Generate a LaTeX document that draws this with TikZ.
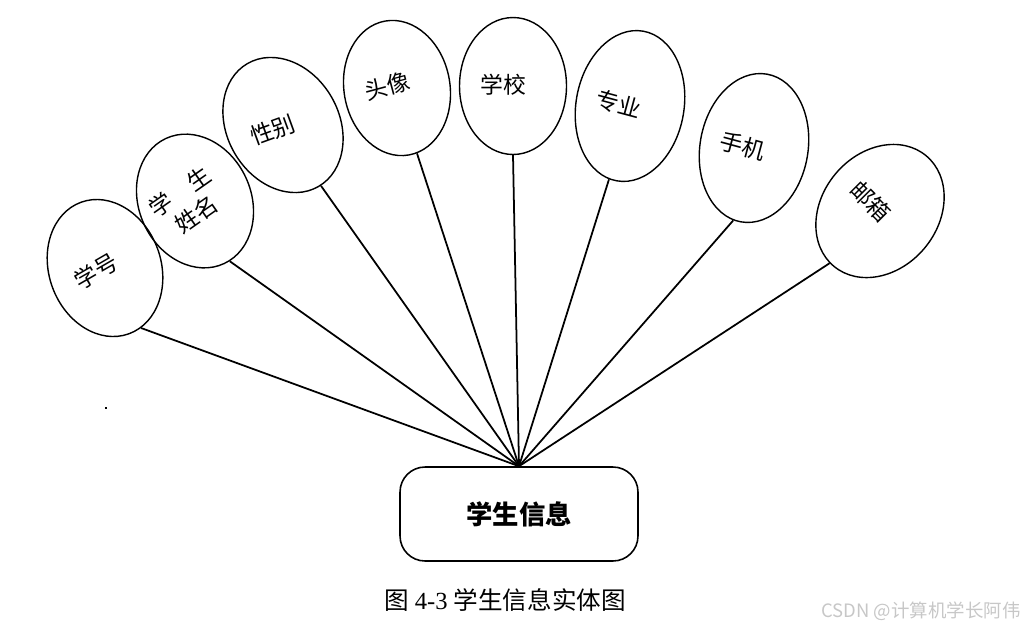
\documentclass[tikz,border=0pt]{standalone}
\usepackage{fontspec}
\setmainfont{Liberation Serif}
\newfontfamily\cjk{Noto Sans CJK SC}
\usetikzlibrary{shapes.geometric}
\tikzset{
  attr/.style 2 args={ellipse, draw, line width=0.8pt, minimum width=#1, minimum height=#2, inner sep=0pt},
  lbl/.style={font=\cjk\fontsize{13}{14}\selectfont, inner sep=0pt, align=center},
  conn/.style={line width=1pt},
}
\begin{document}
\begin{tikzpicture}[x=0.02cm,y=-0.02cm]
\useasboundingbox (0,0) rectangle (1034,630);
% entity
\node[draw, line width=0.9pt, rounded corners=0.5cm, minimum width=4.76cm, minimum height=1.88cm,
      font=\cjk\bfseries\fontsize{15}{18}\selectfont] (ent) at (519,514) {学生信息};
\coordinate (hub) at (ent.north);
% attributes
\node[attr={2.24cm}{2.80cm}, rotate=20]  (a1) at (105,268) {};
\node[attr={2.24cm}{2.76cm}, rotate=25]  (a2) at (195,201) {};
\node[attr={2.24cm}{2.84cm}, rotate=30]  (a3) at (283,125) {};
\node[attr={2.12cm}{2.72cm}, rotate=10]  (a4) at (397,88) {};
\node[attr={2.14cm}{2.74cm}, rotate=0]   (a5) at (513,86) {};
\node[attr={2.16cm}{3.04cm}, rotate=-10] (a6) at (630,106) {};
\node[attr={2.16cm}{3.00cm}, rotate=-10] (a7) at (754,148) {};
\node[attr={2.32cm}{2.88cm}, rotate=-40] (a8) at (880,211) {};
% labels
\node[lbl, rotate=30]  (t1) at (96,271) {学号};
\node[lbl, rotate=35]  (t2) at (188,203) {学\quad 生\\[2pt]姓名};
\node[lbl, rotate=20]  (t3) at (273,130) {性别};
\node[lbl, rotate=15]  (t4) at (387,86) {头像};
\node[lbl, rotate=0]   (t5) at (503,85) {学校};
\node[lbl, rotate=-15] (t6) at (619,104) {专业};
\node[lbl, rotate=-15] (t7) at (743,146) {手机};
\node[lbl, rotate=-45] (t8) at (871,201) {邮箱};
% connectors
\draw[conn] (a1.-79) -- (hub);
\draw[conn] (a2.-85) -- (hub);
\draw[conn] (a3.-88) -- (hub);
\draw[conn] (a4.-83) -- (hub);
\draw[conn] (a5.-90) -- (hub);
\draw[conn] (a6.-96) -- (hub);
\draw[conn] (a7.-96) -- (hub);
\draw[conn] (a8.-94) -- (hub);
% stray dot
\fill (105,407) rectangle (107,409);
% caption
\node[font=\fontsize{14}{16}\selectfont, inner sep=0pt] (cap) at (505,600) {{\cjk 图} 4-3 {\cjk 学生信息实体图}};
\node[font=\cjk\fontsize{10.5}{12}\selectfont, text=black!22, inner sep=0pt] (wm) at (921,611) {CSDN @计算机学长阿伟};
\end{tikzpicture}
\end{document}
